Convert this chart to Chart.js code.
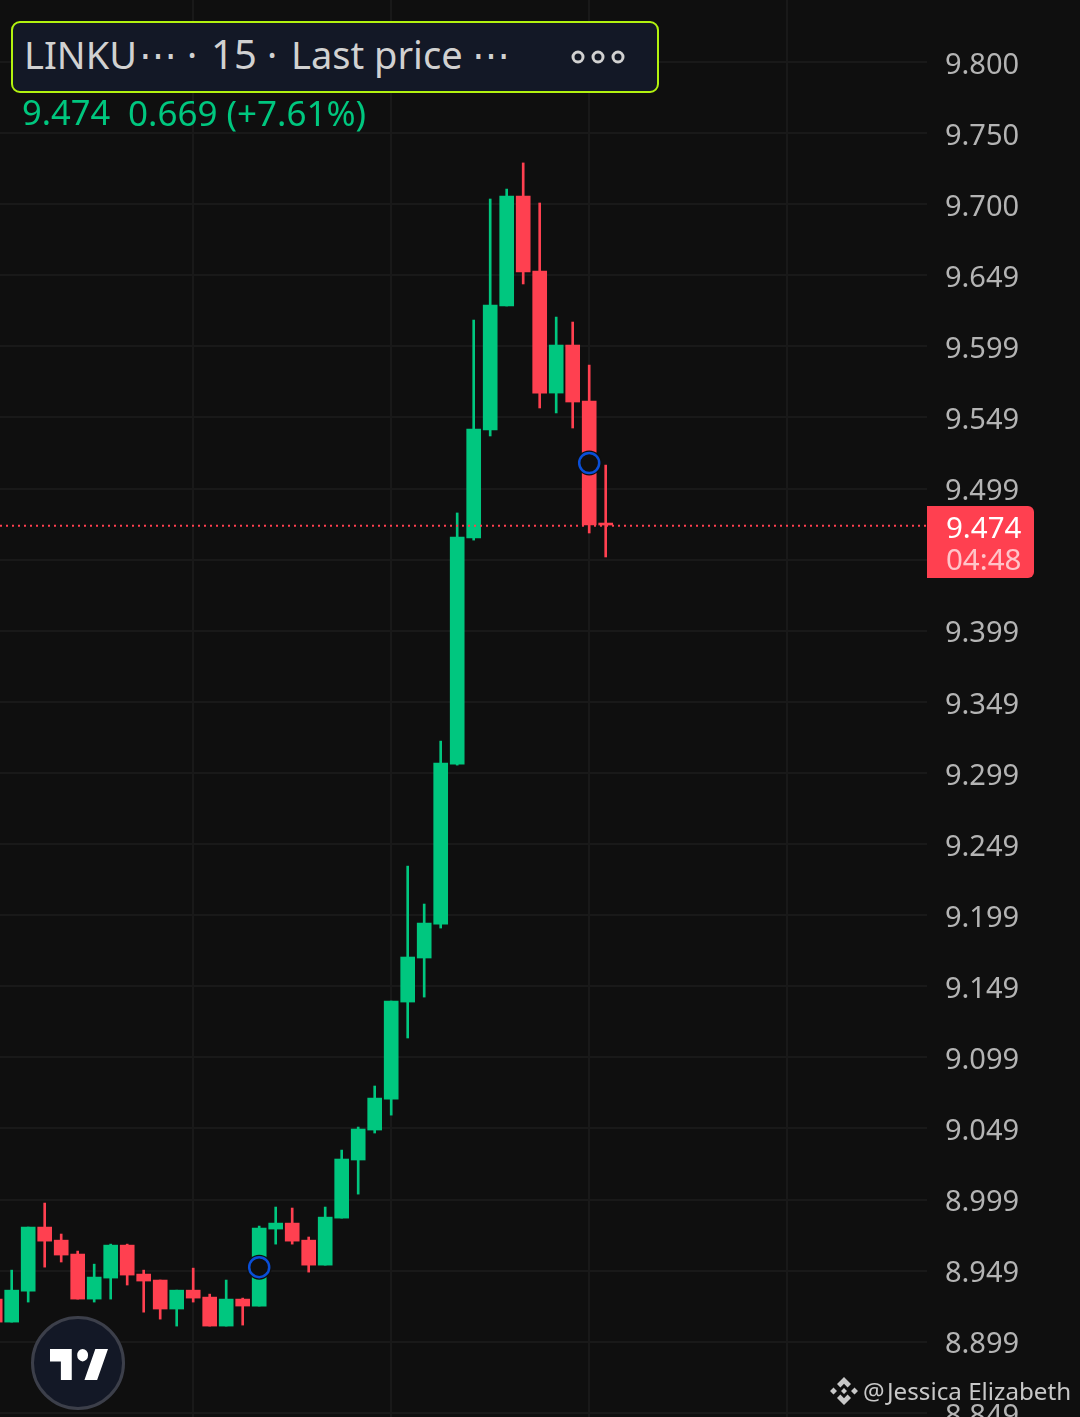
<!DOCTYPE html>
<html>
<head>
<meta charset="utf-8">
<title>LINKUSDT 15</title>
<script src="https://cdn.jsdelivr.net/npm/chart.js@4/dist/chart.umd.min.js"></script>
<style>
  html, body { margin: 0; padding: 0; background: #0f0f0f; }
  body { position: relative; width: 1080px; height: 1417px; overflow: hidden; font-family: "Noto Sans", sans-serif; }
  canvas { position: absolute; left: 0; top: 0; }
  .abs { position: absolute; white-space: pre; line-height: 1; }
  .head { top: 35px; font-size: 38px; color: #d1d1d1; }
  #titleBox { position: absolute; left: 11px; top: 21px; width: 644px; height: 68px; background: #131826; border: 2px solid #b2f20f; border-radius: 9px; }
  #priceBox { position: absolute; left: 927px; top: 506px; width: 107px; height: 72px; background: #ff4050; border-radius: 0 6px 6px 0; }
  #logo { position: absolute; left: 31px; top: 1316px; width: 88px; height: 88px; background: #131826; border: 3px solid #3c3f4a; border-radius: 50%; }
</style>
</head>
<body>
<canvas id="priceChart" width="1080" height="1417"></canvas>

<div id="titleBox"></div>
<div class="abs head" style="left:24px">LINKU</div>
<div class="abs head" style="left:139px">⋯</div>
<div class="abs head" style="left:187px">·</div>
<div class="abs head" style="left:211px;font-size:40px;top:34px">15</div>
<div class="abs head" style="left:267px">·</div>
<div class="abs head" style="left:291px">Last price</div>
<div class="abs head" style="left:472px">⋯</div>
<svg class="abs" style="left:570px;top:47px" width="56" height="20">
  <circle cx="8" cy="10" r="5" fill="none" stroke="#d1d1d1" stroke-width="3"/>
  <circle cx="28" cy="10" r="5" fill="none" stroke="#d1d1d1" stroke-width="3"/>
  <circle cx="48" cy="10" r="5" fill="none" stroke="#d1d1d1" stroke-width="3"/>
</svg>
<div class="abs" style="left:22px;top:95px;font-size:34.5px;color:#00c77f">9.474</div>
<div class="abs" style="left:128px;top:95px;font-size:35px;color:#00c77f">0.669 (+7.61%)</div>

<div id="priceBox"></div>
<div class="abs" style="left:946px;top:512px;font-size:29.5px;color:#ffffff">9.474</div>
<div class="abs" style="left:946px;top:544px;font-size:29.5px;color:#ffc4c9">04:48</div>

<div id="logo"></div>
<svg class="abs" style="left:50px;top:1349px" width="58" height="31" viewBox="2 6 32 15" preserveAspectRatio="none">
  <path fill="#ffffff" d="M14 6H2v6h6v9h6V6zm14 15h-7l6-15h7l-6 15zm-8-9a3 3 0 100-6 3 3 0 000 6z"/>
</svg>

<svg class="abs" style="left:830px;top:1377px" width="28" height="28" viewBox="0 0 28 28">
  <path fill="#c8c8c8" d="M14 0l7 7-3.4 3.4L14 6.8l-3.6 3.6L7 7z M14 28l-7-7 3.4-3.4 3.6 3.6 3.6-3.6L21 21z M3.5 10.5L7 14l-3.5 3.5L0 14z M24.5 10.5L28 14l-3.5 3.5L21 14z M14 11l3 3-3 3-3-3z"/>
</svg>
<div class="abs" style="left:863px;top:1379px;font-size:24px;color:#c8c8c8">@</div>
<div class="abs" style="left:887px;top:1379px;font-size:24.2px;color:#c8c8c8">Jessica Elizabeth</div>

<script>
// candle values (bar 0 is the one cut off at the left edge)
const opens = [8.9291, 8.9129, 8.9347, 8.9798, 8.9706, 8.9608, 8.9291, 8.9439, 8.9671, 8.9467,
  8.9425, 8.9221, 8.9354, 8.9305, 8.9101, 8.9291, 8.9242, 8.9784, 8.9826, 8.9706,
  8.9530, 8.9861, 9.0270, 9.0481, 9.0699, 9.1382, 9.1692, 9.1931, 9.3057, 9.4649,
  9.5409, 9.6282, 9.7056, 9.6528, 9.5669, 9.6007, 9.5613, 9.4754];
const highs = [8.9320, 8.9495, 8.9798, 8.9967, 8.9749, 8.9629, 8.9537, 8.9678, 8.9678, 8.9495,
  8.9425, 8.9354, 8.9509, 8.9326, 8.9425, 8.9298, 8.9805, 8.9939, 8.9932, 8.9728,
  8.9939, 9.0340, 9.0502, 9.0791, 9.1389, 9.2339, 9.2072, 9.3219, 9.4825, 9.6183,
  9.7035, 9.7105, 9.7289, 9.7007, 9.6204, 9.6169, 9.5866, 9.5162];
const lows = [8.9115, 8.9129, 8.9270, 8.9516, 8.9552, 8.9291, 8.9270, 8.9291, 8.9390, 8.9199,
  8.9150, 8.9101, 8.9270, 8.9101, 8.9101, 8.9108, 8.9242, 8.9678, 8.9678, 8.9481,
  8.9530, 8.9861, 9.0030, 9.0460, 9.0586, 9.1129, 9.1417, 9.1903, 9.3050, 9.4634,
  9.5367, 9.6282, 9.6437, 9.5564, 9.5529, 9.5423, 9.4684, 9.4515];
const closes = [8.9129, 8.9354, 8.9798, 8.9699, 8.9601, 8.9291, 8.9446, 8.9671, 8.9460, 8.9418,
  8.9221, 8.9354, 8.9298, 8.9101, 8.9291, 8.9242, 8.9791, 8.9826, 8.9699, 8.9530,
  8.9868, 9.0277, 9.0488, 9.0706, 9.1389, 9.1699, 9.1938, 9.3065, 9.4656, 9.5416,
  9.6289, 9.7056, 9.6521, 9.5669, 9.6007, 9.5606, 9.4740, 9.4740];

// price axis
const tickValues = [9.8000, 9.74995, 9.6999, 9.64985, 9.5998, 9.54975, 9.4997, 9.44965, 9.3996, 9.34955,
  9.2995, 9.24945, 9.1994, 9.14935, 9.0993, 9.04925, 8.9992, 8.94915, 8.8991, 8.84905];
const tickLabels = ["9.800", "9.750", "9.700", "9.649", "9.599", "9.549", "9.499", "9.449", "9.399", "9.349",
  "9.299", "9.249", "9.199", "9.149", "9.099", "9.049", "8.999", "8.949", "8.899", "8.849"];
const timeTicks = [12, 24, 36, 48];

// small blue circles on the candles
const markerBars = [16, 36];
const markerPrices = [8.9516, 9.5177];

const lastPrice = 9.4735;
const xMin = 0.291;
const xMax = 56.473;
const yMin = 8.8461;
const yMax = 9.8436;

const green = "#00c77f";
const red = "#ff4050";
const gridColor = "#191919";

function candleColor(ctx) {
  return closes[ctx.dataIndex] >= opens[ctx.dataIndex] ? green : red;
}

// no room kept for labels hanging over the plot edges
function dropPadding(scale) {
  scale.paddingTop = 0;
  scale.paddingBottom = 0;
  scale.paddingLeft = 0;
  scale.paddingRight = 0;
}

const bodyData = opens.map((o, i) => ({ x: i, y: [o, closes[i]] }));
const wickData = opens.map((o, i) => ({ x: i, y: [lows[i], highs[i]] }));
const markerData = markerBars.map((b, i) => ({ x: b, y: markerPrices[i] }));

new Chart(document.getElementById("priceChart").getContext("2d"), {
  type: "bar",
  data: {
    datasets: [
      {
        // last price dotted line, on top of the candles
        type: "line",
        data: [{ x: xMin, y: lastPrice }, { x: xMax, y: lastPrice }],
        borderColor: red,
        borderWidth: 2,
        borderDash: [2, 4],
        pointRadius: 0,
        order: 1
      },
      {
        type: "scatter",
        data: markerData,
        pointRadius: 10,
        pointBackgroundColor: "#0f0f0f",
        pointBorderColor: "#0a4fd8",
        pointBorderWidth: 2.5,
        order: 2
      },
      {
        type: "scatter",
        data: markerData,
        pointRadius: 12.5,
        pointBackgroundColor: "#0f0f0f",
        pointBorderWidth: 0,
        order: 3
      },
      {
        label: "Body",
        data: bodyData,
        backgroundColor: candleColor,
        barThickness: 14,
        grouped: false,
        order: 4
      },
      {
        label: "Wick",
        data: wickData,
        backgroundColor: candleColor,
        barThickness: 2,
        grouped: false,
        order: 5
      }
    ]
  },
  options: {
    responsive: false,
    animation: false,
    layout: { padding: 0, autoPadding: false },
    plugins: {
      legend: { display: false },
      tooltip: { enabled: false }
    },
    scales: {
      x: {
        type: "linear",
        offset: false,
        min: xMin,
        max: xMax,
        afterBuildTicks: scale => { scale.ticks = timeTicks.map(v => ({ value: v })); },
        afterFit: scale => { scale.height = 0; dropPadding(scale); },
        ticks: { display: false },
        grid: { color: gridColor, lineWidth: 2, drawTicks: false, offset: false },
        border: { display: false }
      },
      y: {
        position: "right",
        min: yMin,
        max: yMax,
        afterBuildTicks: scale => { scale.ticks = tickValues.map(v => ({ value: v })); },
        afterFit: scale => { scale.width = 153; dropPadding(scale); },
        ticks: {
          autoSkip: false,
          color: "#b4b4b4",
          padding: 18,
          // blank first line + short line height moves the label a few px down
          font: { family: "'Noto Sans'", size: 29, lineHeight: "7px" },
          callback: (value, index) => ["", tickLabels[index]]
        },
        grid: { color: gridColor, lineWidth: 2, drawTicks: false },
        border: { display: false }
      }
    }
  }
});
</script>
</body>
</html>
